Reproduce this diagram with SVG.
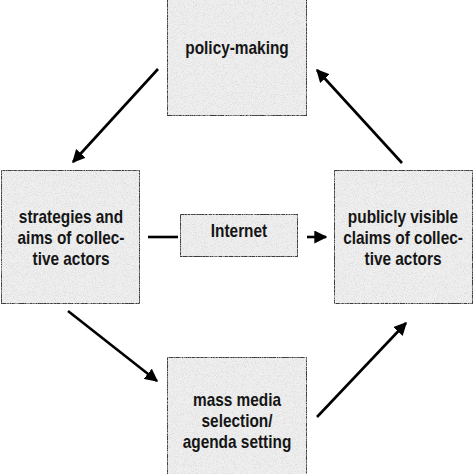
<svg xmlns="http://www.w3.org/2000/svg" width="474" height="474" viewBox="0 0 474 474">
<style>
.box{fill:#efefef;stroke:#3a3a3a;stroke-width:2}
.lbl{font-family:"Liberation Sans",Arial,sans-serif;font-weight:bold;font-size:17.5px;fill:#151515;text-anchor:middle}
.con{stroke:#000;stroke-width:2.6;fill:none}
</style>
<defs>
<filter id="grain" x="0" y="0" width="100%" height="100%">
<feTurbulence type="fractalNoise" baseFrequency="1.1" numOctaves="2" seed="3" result="n"/>
<feColorMatrix in="n" type="matrix" values="0 0 0 0 0.65  0 0 0 0 0.65  0 0 0 0 0.65  0 0 0 -2 1.1" result="g"/>
<feComposite in="g" in2="SourceGraphic" operator="atop"/>
</filter>
<marker id="ah" viewBox="0 0 10 10" refX="9" refY="5" markerWidth="5" markerHeight="5" orient="auto" markerUnits="strokeWidth">
<path d="M0,0 L10,5 L0,10 z" fill="#000"/>
</marker>
</defs>
<rect width="474" height="474" fill="#fff"/>
<g id="policy-making">
<rect class="box" x="167" y="-3" width="140" height="119" filter="url(#grain)"/>
<g transform="translate(237,0) scale(0.88,1)"><text class="lbl" x="0" y="54">policy-making</text></g>
</g>
<g id="strategies">
<rect class="box" x="1" y="170" width="139" height="134" filter="url(#grain)"/>
<g transform="translate(71,0) scale(0.88,1)">
<text class="lbl" x="0" y="223">strategies and</text>
<text class="lbl" x="0" y="244">aims of collec-</text>
<text class="lbl" x="0" y="265">tive actors</text>
</g>
</g>
<g id="internet">
<rect class="box" x="180" y="214" width="118" height="43" filter="url(#grain)"/>
<g transform="translate(239,0) scale(0.88,1)"><text class="lbl" x="0" y="237">Internet</text></g>
</g>
<g id="claims">
<rect class="box" x="334" y="170" width="139" height="134" filter="url(#grain)"/>
<g transform="translate(403,0) scale(0.88,1)">
<text class="lbl" x="0" y="223">publicly visible</text>
<text class="lbl" x="0" y="244">claims of collec-</text>
<text class="lbl" x="0" y="265">tive actors</text>
</g>
</g>
<g id="mass-media">
<rect class="box" x="167" y="357" width="140" height="120" filter="url(#grain)"/>
<g transform="translate(237,0) scale(0.88,1)">
<text class="lbl" x="0" y="406">mass media</text>
<text class="lbl" x="0" y="427">selection/</text>
<text class="lbl" x="0" y="448">agenda setting</text>
</g>
</g>
<g id="connectors">
<line class="con" x1="158" y1="69" x2="73" y2="162" marker-end="url(#ah)"/>
<line class="con" x1="402" y1="163" x2="317" y2="70" marker-end="url(#ah)"/>
<line class="con" x1="68" y1="311" x2="157" y2="381" marker-end="url(#ah)"/>
<line class="con" x1="317" y1="417" x2="406" y2="323" marker-end="url(#ah)"/>
<line class="con" x1="148" y1="237" x2="178" y2="237"/>
<line class="con" x1="307" y1="237" x2="326" y2="237" marker-end="url(#ah)"/>
</g>
</svg>
